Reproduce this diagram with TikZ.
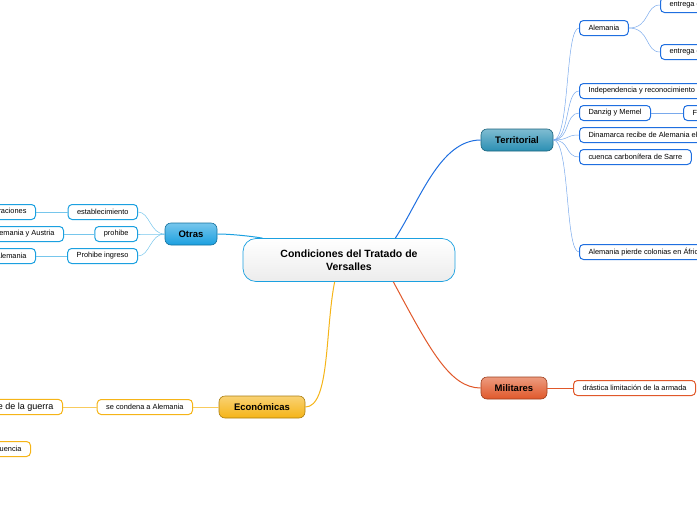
\documentclass[tikz,border=0pt]{standalone}
\usepackage{fontspec}
\setmainfont{Liberation Sans}
\begin{document}
\begin{tikzpicture}[x=1pt,y=-1pt,
 leaf/.style={draw=#1,line width=1pt,rounded corners=4pt,fill=white,font=\fontsize{7.4}{8}\selectfont,inner xsep=9pt,minimum height=15pt},
 main/.style={draw=#1!70!black,line width=0.6pt,rounded corners=6pt,top color=#1!60!white,bottom color=#1,font=\bfseries\fontsize{9.5}{10}\selectfont,minimum height=22pt,text=black},
 lk/.style={draw=#1,line width=0.5pt}]
\definecolor{tb}{HTML}{1F6FE0}\definecolor{tt}{HTML}{2A8FB3}
\definecolor{ob}{HTML}{1BA0E0}\definecolor{eo}{HTML}{F5B417}\definecolor{mr}{HTML}{E0582A}
\useasboundingbox (0,0) rectangle (697,520);
\clip (0,0) rectangle (697,520);
\node[draw=ob,line width=0.7pt,rounded corners=13pt,top color=white,bottom color=gray!15,minimum width=212pt,minimum height=43pt,align=center,font=\bfseries\fontsize{10.5}{13}\selectfont] (c) at (349,260) {Condiciones del Tratado de\\Versalles};
\node[main=tt,minimum width=72pt] (t) at (517,140) {Territorial};
\node[main=ob,minimum width=52pt] (o) at (191,234) {Otras};
\node[main=eo,minimum width=86pt] (e) at (262,407) {Económicas};
\node[main=mr,minimum width=66pt] (m) at (514,388) {Militares};
\draw[tb,line width=1pt] (c.north east)+(-60,0) .. controls (420,200) and (440,140) .. (t.west);
\draw[ob,line width=1pt] (c.north west)+(20,0) .. controls (250,236) and (230,234) .. (o.east);
\draw[eo,line width=1pt] (c.south west)+(92,0) .. controls (325,330) and (330,407) .. (e.east);
\draw[mr,line width=1pt] (c.south east)+(-62,0) .. controls (430,350) and (450,388) .. (m.west);
% territorial children
\foreach \n/\y/\txt in {a1/28/Alemania,a2/91/Independencia y reconocimiento de,a3/113/Danzig y Memel,a4/135/Dinamarca recibe de Alemania el,a5/157/cuenca carbonífera de Sarre,a6/252/Alemania pierde colonias en África}{
 \node[leaf=tb,anchor=west] (\n) at (579,\y) {\txt};
 \draw[lk=tb!60] (t.east) .. controls (570,140) and (565,\y) .. (\n.west);}
\node[leaf=tb,anchor=west] (f) at (683,113) {Francia};
\draw[lk=tb!60] (a3.east) -- (f.west);
\node[leaf=tb,anchor=west] (e1) at (660,5) {entrega de territorios};
\node[leaf=tb,anchor=west] (e2) at (660,52) {entrega de territorios};
\draw[lk=tb!60] (a1.east) .. controls (650,28) and (645,5) .. (e1.west);
\draw[lk=tb!60] (a1.east) .. controls (650,28) and (645,52) .. (e2.west);
% militares
\node[leaf=mr,anchor=west] (m1) at (573,388) {drástica limitación de la armada};
\draw[lk=mr] (m.east) -- (m1.west);
% otras
\node[leaf=ob,anchor=east] (o1) at (138,212) {establecimiento};
\node[leaf=ob,anchor=east] (o2) at (138,234) {prohibe};
\node[leaf=ob,anchor=east] (o3) at (138,256) {Prohibe ingreso};
\foreach \n/\y in {o1/212,o2/234,o3/256}
 \draw[lk=ob!60] (o.west) .. controls (150,234) and (150,\y) .. (\n.east);
\node[leaf=ob,anchor=east] (p1) at (36,212) {reparaciones};
\node[leaf=ob,anchor=east] (p2) at (64,234) {unión de Alemania y Austria};
\node[leaf=ob,anchor=east] (p3) at (36,256) {a Alemania};
\draw[lk=ob!60] (o1.west) -- (p1.east);
\draw[lk=ob!60] (o2.west) -- (p2.east);
\draw[lk=ob!60] (o3.west) -- (p3.east);
% economicas
\node[leaf=eo,anchor=east] (e3) at (193,407) {se condena a Alemania};
\draw[lk=eo!70] (e.west) -- (e3.east);
\node[leaf=eo,anchor=east,font=\fontsize{9}{10}\selectfont] (e4) at (63,407) {responsable de la guerra};
\draw[lk=eo!70] (e3.west) -- (e4.east);
\node[leaf=eo,anchor=east] (e5) at (31,449) {influencia};
\end{tikzpicture}
\end{document}
